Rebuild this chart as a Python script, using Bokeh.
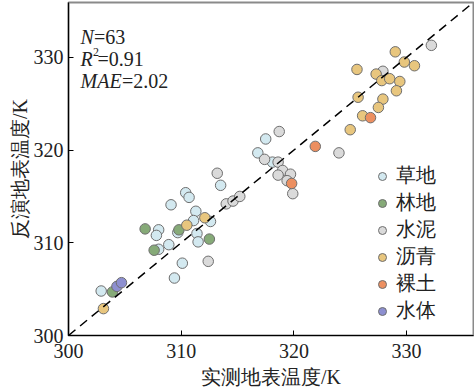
from bokeh.plotting import figure
from bokeh.models import (ColumnDataSource, Legend, LegendItem, Label, Slope,
                          FixedTicker, Range1d)
from bokeh.embed import file_html
from bokeh.resources import INLINE

# ---- data (measured LST, retrieved LST) ----
grass_x = [302.9, 308.0, 307.8, 308.0, 308.9, 309.1, 309.7, 310.1, 309.4, 310.4,
           310.7, 311.3, 311.1, 311.4, 311.5, 312.6, 313.5, 317.5, 316.8, 318.1]
grass_y = [304.8, 311.4, 310.8, 309.3, 309.8, 314.1, 311.1, 307.8, 306.2, 315.4,
           314.9, 313.4, 312.4, 311.0, 310.1, 312.3, 316.2, 321.2, 319.7, 318.7]
forest_x = [303.9, 306.8, 307.6, 309.8, 312.5]
forest_y = [304.7, 311.5, 309.2, 311.4, 310.4]
cement_x = [312.4, 313.2, 314.0, 314.6, 315.2, 318.7, 317.4, 318.6, 319.0, 318.6,
            319.7, 319.4, 319.9, 324.0, 332.2, 327.9]
cement_y = [308.0, 317.5, 314.2, 314.5, 315.0, 322.0, 319.0, 318.7, 317.8, 317.3,
            317.4, 316.7, 315.3, 319.7, 331.3, 328.5]
asphalt_x = [303.1, 310.5, 312.1, 329.0, 329.8, 330.7, 325.6, 327.3, 327.8, 328.5,
             329.4, 329.1, 325.7, 327.9, 327.5, 326.1, 325.0]
asphalt_y = [302.9, 311.9, 312.7, 330.6, 329.5, 329.1, 328.7, 328.2, 327.5, 327.7,
             327.4, 326.4, 325.7, 325.5, 324.6, 323.7, 322.2]
bare_x = [319.8, 321.9, 326.8]
bare_y = [316.4, 320.4, 323.5]
water_x = [304.3, 304.7]
water_y = [305.3, 305.7]

classes = ["草地", "林地", "水泥", "沥青", "裸土", "水体"]
colors = ["#d3e9f0", "#86aa78", "#dadada", "#e8c67e", "#ec8f60", "#8d8fd0"]
series_x = [grass_x, forest_x, cement_x, asphalt_x, bare_x, water_x]
series_y = [grass_y, forest_y, cement_y, asphalt_y, bare_y, water_y]
ticks = [300, 310, 320, 330]

SERIF = "Liberation Serif"

p = figure(width=474, height=391, output_backend="svg", toolbar_location=None,
           x_range=Range1d(300, 335.94), y_range=Range1d(300, 335.92),
           min_border_left=68, min_border_right=1, min_border_top=2,
           min_border_bottom=56)
p.grid.visible = False
p.outline_line_color = "#8a8a8a"
p.outline_line_width = 2

for ax in (p.xaxis[0], p.yaxis[0]):
    ax.ticker = FixedTicker(ticks=ticks)
    ax.minor_tick_line_color = None
    ax.major_tick_in = 5
    ax.major_tick_out = 0
    ax.axis_line_color = "black"
    ax.axis_line_width = 1.2
    ax.major_tick_line_color = "black"
    ax.major_label_text_font = SERIF
    ax.major_label_text_font_size = "20px"
    ax.major_label_text_color = "#222222"
    ax.axis_label_text_font = SERIF
    ax.axis_label_text_font_size = "20px"
    ax.axis_label_text_font_style = "normal"
    ax.axis_label_text_color = "#222222"

p.xaxis.axis_label = "实测地表温度/K"
p.yaxis.axis_label = "反演地表温度/K"
p.xaxis.major_label_standoff = 8
p.xaxis.axis_label_standoff = 5
p.yaxis.major_label_standoff = 5
p.yaxis.axis_label_standoff = 0

p.add_layout(Slope(gradient=1, y_intercept=0, line_color="black",
                   line_width=1.5, line_dash="9 6"))

items = []
for name, col, xs, ys in zip(classes, colors, series_x, series_y):
    src = ColumnDataSource(dict(x=xs, y=ys))
    r = p.scatter("x", "y", source=src, size=10.5, fill_color=col,
                  line_color="#6e6e6e", line_width=1)
    items.append(LegendItem(label=name, renderers=[r]))

legend = Legend(items=items, location=(304, 11), glyph_width=20, glyph_height=20,
                label_standoff=4, spacing=0, padding=0, margin=0,
                label_text_font=SERIF, label_text_font_size="20px",
                label_text_color="#222222", background_fill_alpha=0,
                border_line_color=None, label_height=20)
p.add_layout(legend, "center")

def lab(x, y, t, style="normal", size="20px"):
    p.add_layout(Label(x=x, y=y, x_units="screen", y_units="screen", text=t,
                       text_font=SERIF, text_font_size=size,
                       text_font_style=style, text_color="#222222",
                       text_baseline="alphabetic"))

lab(12, 299, "N", "italic")
lab(25.5, 299, "=63")
lab(12, 277, "R", "italic")
lab(24.5, 284, "2", size="12px")
lab(29, 277, "=0.91")
lab(12, 255, "MAE", "italic")
lab(53.5, 255, "=2.02")

open("out.html", "w").write(file_html(p, INLINE))
